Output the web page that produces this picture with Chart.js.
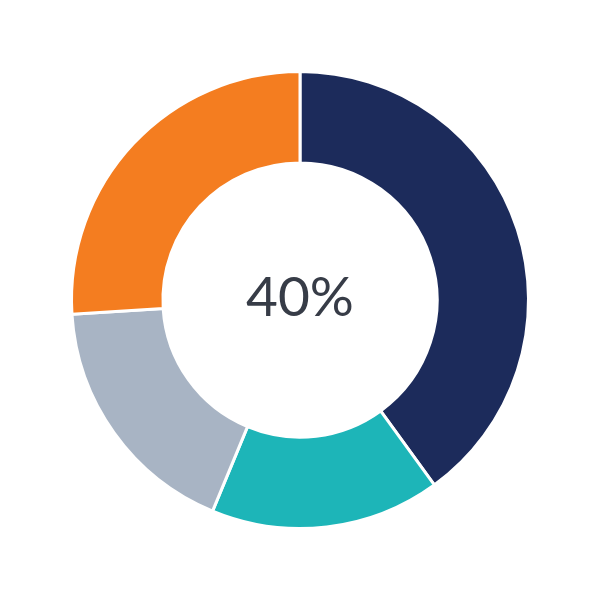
<!DOCTYPE html>
<html>
<head>
<meta charset="utf-8">
<script src="https://cdn.jsdelivr.net/npm/chart.js@4"></script>
<style>
  html, body { margin: 0; padding: 0; background: #ffffff; }
  #wrap { width: 600px; height: 600px; }
</style>
</head>
<body>
<div id="wrap"><canvas id="chart"></canvas></div>
<script>
// data (clockwise from 12 o'clock)
const labels = ['A', 'B', 'C', 'D'];
const values = [40, 16.25, 17.75, 26];
const colors = ['#1c2b5b', '#1db5b8', '#a8b4c4', '#f47d20'];
const centerText = '40%';

// draws the label in the hole
const centerLabel = {
    id: 'centerLabel',
    afterDraw(chart) {
        const meta = chart.getDatasetMeta(0);
        if (!meta.data.length) return;
        const arc = meta.data[0];
        const ctx = chart.ctx;
        ctx.save();
        ctx.font = '400 55px Lato';
        ctx.fillStyle = '#373c47';
        ctx.textAlign = 'center';
        ctx.textBaseline = 'middle';
        ctx.fillText(centerText, arc.x, arc.y - 2);
        ctx.restore();
    }
};

new Chart(document.getElementById('chart'), {
    type: 'doughnut',
    data: {
        labels: labels,
        datasets: [{
            data: values,
            backgroundColor: colors,
            borderColor: '#ffffff',
            borderWidth: 3
        }]
    },
    options: {
        responsive: true,
        maintainAspectRatio: false,
        animation: false,
        cutout: '60%',
        layout: { padding: 70 },
        plugins: {
            legend: { display: false },
            tooltip: { enabled: false }
        }
    },
    plugins: [centerLabel]
});
</script>
</body>
</html>
